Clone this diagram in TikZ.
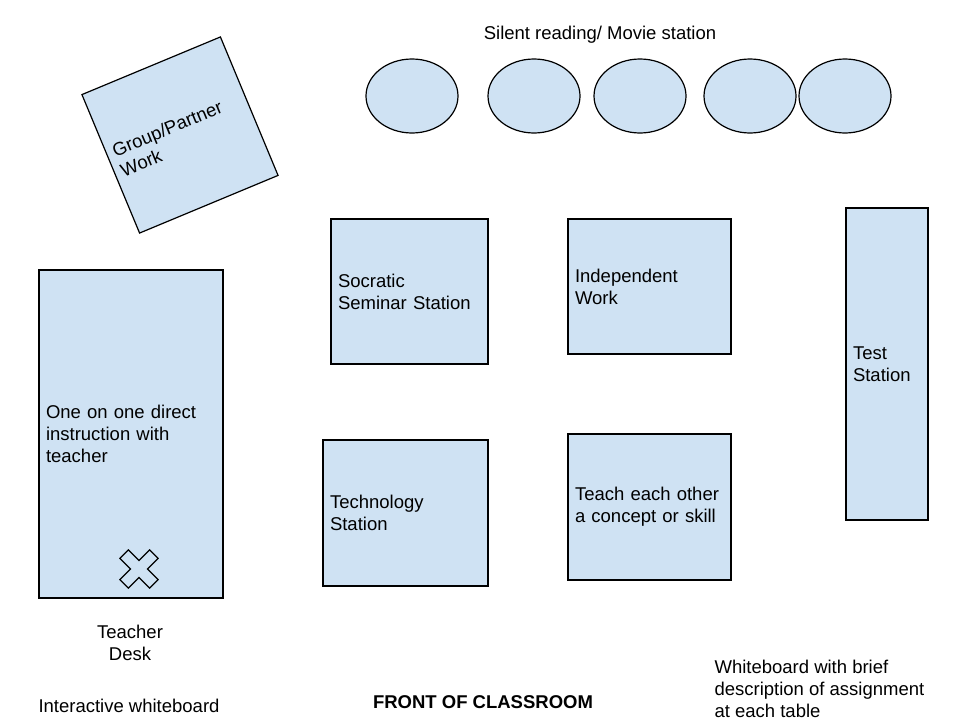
\documentclass[tikz,border=0pt]{standalone}
\usepackage{fontspec}
\setmainfont{Liberation Sans}
\usetikzlibrary{shapes.geometric}
\definecolor{tablefill}{HTML}{CFE2F3}
\begin{document}
\begin{tikzpicture}[x=1pt, y=-1pt,
    every node/.style={font=\fontsize{18.5}{22}\selectfont},
    table/.style={rectangle, draw, line width=1.2pt, fill=tablefill, align=left, inner xsep=7pt},
    seat/.style={ellipse, draw, line width=1.2pt, fill=tablefill, minimum width=92pt, minimum height=74pt}]
  \useasboundingbox (0,0) rectangle (960,720);
  % reading stations
  \foreach \name/\x in {s1/412, s2/534, s3/640, s4/750, s5/845}
    \node[seat] (\name) at (\x,96) {};
  \node (reading) at (600,35) {Silent reading/ Movie station};
  % tables
  \node[table, rotate=22.6, minimum width=150pt, minimum height=150pt, text width=136pt] (group) at (180,135) {Group/Partner\\Work};
  \node[table, minimum width=157pt, minimum height=145pt, text width=143pt] (socratic) at (409.5,291.5) {Socratic\\Seminar Station};
  \node[table, minimum width=163pt, minimum height=135pt, text width=149pt] (independent) at (649.5,286.5) {Independent\\Work};
  \node[table, minimum width=82pt, minimum height=312pt, text width=68pt] (test) at (887,364) {Test\\Station};
  \node[table, minimum width=184pt, minimum height=328pt, text width=170pt] (direct) at (131,434) {One on one direct\\instruction with\\teacher};
  \node[table, minimum width=165pt, minimum height=146pt, text width=151pt] (technology) at (405.5,513) {Technology\\Station};
  \node[table, minimum width=163pt, minimum height=146pt, text width=149pt] (teach) at (649.5,507) {Teach each other\\a concept or skill};
  % teacher desk mark
  \draw[line width=1.2pt, fill=tablefill, shift={(139,569)}, rotate=45]
    (-6,-21) -- (6,-21) -- (6,-6) -- (21,-6) -- (21,6) -- (6,6) -- (6,21)
    -- (-6,21) -- (-6,6) -- (-21,6) -- (-21,-6) -- (-6,-6) -- cycle;
  \node[align=center] (desk) at (130,643) {Teacher\\Desk};
  \node[anchor=west] (interactive) at (35,706) {Interactive whiteboard};
  \node[font=\fontsize{18.5}{22}\selectfont\bfseries] (front) at (483,702) {FRONT OF CLASSROOM};
  \node[anchor=west, align=left] (whiteboard) at (711,689) {Whiteboard with brief\\description of assignment\\at each table};
\end{tikzpicture}
\end{document}
